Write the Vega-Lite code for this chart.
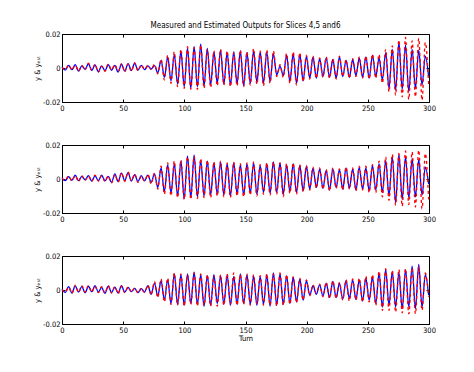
{
"$schema": "https://vega.github.io/schema/vega-lite/v6.json",
"background": "white",
"padding": {"left": 33, "top": 21, "right": 5, "bottom": 5},
"data": {"values": [
{"t":0,"a":0.0005,"b":0.0003,"c":0.0003,"d":0.0005,"e":0.0003,"f":0.0002},
{"t":2.7,"a":-0.0012,"b":-0.001,"c":-0.001,"d":-0.0008,"e":-0.0015,"f":-0.0013},
{"t":5.4,"a":0.0015,"b":0.0018,"c":0.0014,"d":0.0018,"e":0.002,"f":0.0017},
{"t":8.1,"a":-0.001,"b":-0.0013,"c":-0.0008,"d":-0.0012,"e":-0.0018,"f":-0.002},
{"t":10.8,"a":0.002,"b":0.0016,"c":0.0022,"d":0.002,"e":0.0024,"f":0.0028},
{"t":13.5,"a":-0.0018,"b":-0.002,"c":-0.001,"d":-0.0015,"e":-0.0012,"f":-0.0015},
{"t":16.2,"a":0.0012,"b":0.0015,"c":0.0016,"d":0.002,"e":0.002,"f":0.0025},
{"t":18.9,"a":-0.0008,"b":-0.001,"c":-0.0005,"d":-0.0008,"e":-0.0016,"f":-0.0013},
{"t":21.6,"a":0.0025,"b":0.0028,"c":0.002,"d":0.0017,"e":0.0022,"f":0.0026},
{"t":24.3,"a":-0.0015,"b":-0.0012,"c":-0.0012,"d":-0.0015,"e":-0.001,"f":-0.0014},
{"t":27,"a":0.0018,"b":0.0022,"c":0.0018,"d":0.0023,"e":0.0025,"f":0.0022},
{"t":29.7,"a":-0.0022,"b":-0.0025,"c":-0.0009,"d":-0.0012,"e":-0.0012,"f":-0.0016},
{"t":32.4,"a":0.0013,"b":0.001,"c":0.0022,"d":0.002,"e":0.0015,"f":0.0019},
{"t":35.1,"a":-0.0016,"b":-0.0019,"c":-0.0011,"d":-0.0014,"e":-0.002,"f":-0.0018},
{"t":37.8,"a":0.0019,"b":0.0023,"c":0.0015,"d":0.0019,"e":0.0023,"f":0.0027},
{"t":40.5,"a":-0.0014,"b":-0.0012,"c":-0.002,"d":-0.0024,"e":-0.0015,"f":-0.0018},
{"t":43.2,"a":0.0016,"b":0.002,"c":0.003,"d":0.0026,"e":0.0017,"f":0.002},
{"t":45.9,"a":-0.0024,"b":-0.002,"c":-0.0015,"d":-0.0019,"e":-0.0018,"f":-0.0022},
{"t":48.6,"a":0.0022,"b":0.0026,"c":0.0035,"d":0.0038,"e":0.0025,"f":0.0022},
{"t":51.3,"a":-0.0018,"b":-0.0022,"c":-0.001,"d":-0.0014,"e":-0.0013,"f":-0.0015},
{"t":54,"a":0.0026,"b":0.0023,"c":0.0038,"d":0.0042,"e":0.0015,"f":0.0018},
{"t":56.7,"a":-0.0015,"b":-0.0019,"c":-0.0012,"d":-0.001,"e":-0.001,"f":-0.0013},
{"t":59.4,"a":0.0028,"b":0.003,"c":0.0025,"d":0.003,"e":0.001,"f":0.0012},
{"t":62.1,"a":-0.0013,"b":-0.0016,"c":-0.0015,"d":-0.002,"e":-0.0015,"f":-0.0018},
{"t":64.8,"a":0.0015,"b":0.0019,"c":0.002,"d":0.0016,"e":0.0008,"f":0.001},
{"t":67.5,"a":-0.001,"b":-0.0008,"c":-0.001,"d":-0.0013,"e":-0.0012,"f":-0.0015},
{"t":70.2,"a":0.0012,"b":0.0016,"c":0.0023,"d":0.0028,"e":0.0025,"f":0.003},
{"t":72.9,"a":-0.0006,"b":-0.001,"c":-0.002,"d":-0.003,"e":-0.0025,"f":-0.003},
{"t":75.6,"a":0.0014,"b":0.0022,"c":0.003,"d":0.0035,"e":0.004,"f":0.005},
{"t":78.3,"a":-0.0028,"b":-0.0035,"c":-0.005,"d":-0.006,"e":-0.0035,"f":-0.0045},
{"t":81,"a":0.0045,"b":0.0052,"c":0.0065,"d":0.0075,"e":0.0055,"f":0.0065},
{"t":83.7,"a":-0.0055,"b":-0.007,"c":-0.0075,"d":-0.009,"e":-0.006,"f":-0.007},
{"t":86.4,"a":0.0065,"b":0.0075,"c":0.0085,"d":0.0095,"e":0.006,"f":0.007},
{"t":89.1,"a":-0.0075,"b":-0.009,"c":-0.0085,"d":-0.01,"e":-0.008,"f":-0.0085},
{"t":91.8,"a":0.008,"b":0.0095,"c":0.009,"d":0.0105,"e":0.0095,"f":0.01},
{"t":94.5,"a":-0.0095,"b":-0.011,"c":-0.01,"d":-0.011,"e":-0.0085,"f":-0.009},
{"t":97.2,"a":0.01,"b":0.011,"c":0.0105,"d":0.011,"e":0.009,"f":0.0095},
{"t":99.9,"a":-0.011,"b":-0.012,"c":-0.0115,"d":-0.012,"e":-0.009,"f":-0.0095},
{"t":102.6,"a":0.0115,"b":0.0125,"c":0.0135,"d":0.013,"e":0.0095,"f":0.009},
{"t":105.3,"a":-0.012,"b":-0.0125,"c":-0.011,"d":-0.012,"e":-0.008,"f":-0.0085},
{"t":108,"a":0.0125,"b":0.012,"c":0.014,"d":0.0135,"e":0.0105,"f":0.01},
{"t":110.7,"a":-0.011,"b":-0.0125,"c":-0.0105,"d":-0.0115,"e":-0.0085,"f":-0.0095},
{"t":113.4,"a":0.014,"b":0.0135,"c":0.011,"d":0.012,"e":0.009,"f":0.0095},
{"t":116.1,"a":-0.0105,"b":-0.012,"c":-0.01,"d":-0.011,"e":-0.0095,"f":-0.009},
{"t":118.8,"a":0.0115,"b":0.011,"c":0.0105,"d":0.011,"e":0.0085,"f":0.009},
{"t":121.5,"a":-0.01,"b":-0.0115,"c":-0.0095,"d":-0.011,"e":-0.009,"f":-0.0095},
{"t":124.2,"a":0.0095,"b":0.01,"c":0.0095,"d":0.01,"e":0.009,"f":0.0085},
{"t":126.9,"a":-0.009,"b":-0.0105,"c":-0.009,"d":-0.01,"e":-0.008,"f":-0.0095},
{"t":129.6,"a":0.0105,"b":0.011,"c":0.01,"d":0.0105,"e":0.0085,"f":0.009},
{"t":132.3,"a":-0.0095,"b":-0.01,"c":-0.0095,"d":-0.0105,"e":-0.0085,"f":-0.009},
{"t":135,"a":0.009,"b":0.01,"c":0.009,"d":0.0095,"e":0.009,"f":0.0095},
{"t":137.7,"a":-0.01,"b":-0.011,"c":-0.01,"d":-0.011,"e":-0.009,"f":-0.0085},
{"t":140.4,"a":0.0095,"b":0.009,"c":0.0095,"d":0.01,"e":0.008,"f":0.01},
{"t":143.1,"a":-0.0095,"b":-0.0105,"c":-0.009,"d":-0.01,"e":-0.0085,"f":-0.009},
{"t":145.8,"a":0.01,"b":0.0105,"c":0.0085,"d":0.009,"e":0.0095,"f":0.009},
{"t":148.5,"a":-0.0105,"b":-0.011,"c":-0.0095,"d":-0.0105,"e":-0.008,"f":-0.0085},
{"t":151.2,"a":0.009,"b":0.0095,"c":0.009,"d":0.0095,"e":0.009,"f":0.0095},
{"t":153.9,"a":-0.009,"b":-0.01,"c":-0.0085,"d":-0.0095,"e":-0.0085,"f":-0.009},
{"t":156.6,"a":0.01,"b":0.0115,"c":0.0095,"d":0.01,"e":0.0085,"f":0.009},
{"t":159.3,"a":-0.0085,"b":-0.0095,"c":-0.009,"d":-0.01,"e":-0.009,"f":-0.0085},
{"t":162,"a":0.0095,"b":0.01,"c":0.008,"d":0.0085,"e":0.008,"f":0.0085},
{"t":164.7,"a":-0.009,"b":-0.0105,"c":-0.008,"d":-0.009,"e":-0.0085,"f":-0.009},
{"t":167.4,"a":0.0095,"b":0.0105,"c":0.009,"d":0.0095,"e":0.009,"f":0.0095},
{"t":170.1,"a":-0.008,"b":-0.009,"c":-0.0085,"d":-0.0095,"e":-0.0095,"f":-0.009},
{"t":172.8,"a":0.0085,"b":0.01,"c":0.01,"d":0.01,"e":0.01,"f":0.0095},
{"t":175.5,"a":-0.004,"b":-0.005,"c":-0.008,"d":-0.009,"e":-0.009,"f":-0.0095},
{"t":178.2,"a":0.001,"b":0.002,"c":0.0095,"d":0.0095,"e":0.0095,"f":0.01},
{"t":180.9,"a":-0.0045,"b":-0.0055,"c":-0.009,"d":-0.0105,"e":-0.0085,"f":-0.009},
{"t":183.6,"a":0.0075,"b":0.0085,"c":0.0085,"d":0.009,"e":0.0085,"f":0.009},
{"t":186.3,"a":-0.008,"b":-0.009,"c":-0.0075,"d":-0.0085,"e":-0.008,"f":-0.0085},
{"t":189,"a":0.0085,"b":0.0095,"c":0.009,"d":0.0095,"e":0.0075,"f":0.008},
{"t":191.7,"a":-0.009,"b":-0.01,"c":-0.008,"d":-0.009,"e":-0.007,"f":-0.0075},
{"t":194.4,"a":0.008,"b":0.009,"c":0.008,"d":0.0085,"e":0.0065,"f":0.007},
{"t":197.1,"a":-0.0075,"b":-0.008,"c":-0.007,"d":-0.0075,"e":-0.006,"f":-0.006},
{"t":199.8,"a":0.007,"b":0.0075,"c":0.0075,"d":0.008,"e":0.0055,"f":0.006},
{"t":202.5,"a":-0.006,"b":-0.0065,"c":-0.006,"d":-0.0065,"e":-0.003,"f":-0.0035},
{"t":205.2,"a":0.0065,"b":0.007,"c":0.0065,"d":0.007,"e":0.0025,"f":0.003},
{"t":207.9,"a":-0.006,"b":-0.006,"c":-0.005,"d":-0.0055,"e":-0.0025,"f":-0.002},
{"t":210.6,"a":0.0055,"b":0.006,"c":0.006,"d":0.0065,"e":0.003,"f":0.0035},
{"t":213.3,"a":-0.005,"b":-0.0055,"c":-0.0055,"d":-0.006,"e":-0.0035,"f":-0.004},
{"t":216,"a":0.006,"b":0.0065,"c":0.005,"d":0.0055,"e":0.004,"f":0.0045},
{"t":218.7,"a":-0.0055,"b":-0.006,"c":-0.0065,"d":-0.007,"e":-0.0045,"f":-0.005},
{"t":221.4,"a":0.005,"b":0.0055,"c":0.006,"d":0.0065,"e":0.005,"f":0.0055},
{"t":224.1,"a":-0.006,"b":-0.0065,"c":-0.005,"d":-0.0055,"e":-0.0045,"f":-0.005},
{"t":226.8,"a":0.0065,"b":0.007,"c":0.0055,"d":0.006,"e":0.004,"f":0.0045},
{"t":229.5,"a":-0.005,"b":-0.005,"c":-0.006,"d":-0.0065,"e":-0.0055,"f":-0.006},
{"t":232.2,"a":0.0045,"b":0.005,"c":0.0065,"d":0.007,"e":0.0055,"f":0.006},
{"t":234.9,"a":-0.0055,"b":-0.006,"c":-0.0055,"d":-0.006,"e":-0.005,"f":-0.0065},
{"t":237.6,"a":0.005,"b":0.0055,"c":0.006,"d":0.0065,"e":0.006,"f":0.0065},
{"t":240.3,"a":-0.0045,"b":-0.005,"c":-0.0065,"d":-0.007,"e":-0.0055,"f":-0.006},
{"t":243,"a":0.006,"b":0.0065,"c":0.007,"d":0.0075,"e":0.006,"f":0.007},
{"t":245.7,"a":-0.0055,"b":-0.006,"c":-0.006,"d":-0.0065,"e":-0.0065,"f":-0.007},
{"t":248.4,"a":0.0065,"b":0.007,"c":0.0065,"d":0.0075,"e":0.007,"f":0.008},
{"t":251.1,"a":-0.006,"b":-0.0065,"c":-0.007,"d":-0.008,"e":-0.006,"f":-0.007},
{"t":253.8,"a":0.0075,"b":0.008,"c":0.008,"d":0.0085,"e":0.0075,"f":0.009},
{"t":256.5,"a":-0.005,"b":-0.006,"c":-0.0065,"d":-0.008,"e":-0.008,"f":-0.009},
{"t":259.2,"a":0.006,"b":0.008,"c":0.009,"d":0.0105,"e":0.01,"f":0.011},
{"t":261.9,"a":-0.007,"b":-0.009,"c":-0.008,"d":-0.0105,"e":-0.01,"f":-0.012},
{"t":264.6,"a":0.009,"b":0.011,"c":0.011,"d":0.013,"e":0.012,"f":0.0125},
{"t":267.3,"a":-0.012,"b":-0.014,"c":-0.01,"d":-0.0125,"e":-0.009,"f":-0.012},
{"t":270,"a":0.011,"b":0.013,"c":0.013,"d":0.0145,"e":0.011,"f":0.0115},
{"t":272.7,"a":-0.013,"b":-0.016,"c":-0.014,"d":-0.0155,"e":-0.01,"f":-0.013},
{"t":275.4,"a":0.015,"b":0.0165,"c":0.0145,"d":0.015,"e":0.0105,"f":0.012},
{"t":278.1,"a":-0.0125,"b":-0.017,"c":-0.012,"d":-0.016,"e":-0.011,"f":-0.0135},
{"t":280.8,"a":0.0135,"b":0.018,"c":0.013,"d":0.0165,"e":0.012,"f":0.0125},
{"t":283.5,"a":-0.014,"b":-0.0185,"c":-0.011,"d":-0.015,"e":-0.01,"f":-0.014},
{"t":286.2,"a":0.011,"b":0.016,"c":0.012,"d":0.016,"e":0.014,"f":0.013},
{"t":288.9,"a":-0.012,"b":-0.017,"c":-0.0105,"d":-0.0165,"e":-0.011,"f":-0.014},
{"t":291.6,"a":0.0105,"b":0.0175,"c":0.0115,"d":0.017,"e":0.015,"f":0.014},
{"t":294.3,"a":-0.01,"b":-0.019,"c":-0.0095,"d":-0.0175,"e":-0.01,"f":-0.012},
{"t":297,"a":0.007,"b":0.015,"c":0.007,"d":0.015,"e":0.009,"f":0.01},
{"t":299.7,"a":-0.005,"b":-0.01,"c":-0.003,"d":-0.012,"e":-0.003,"f":-0.004}
]},
"spacing": 28,
"vconcat": [
{
"width": 367, "height": 68,
"title": {"text": "Measured and Estimated Outputs for Slices 4,5 and6", "fontSize": 8, "font": "DejaVu Sans Condensed, Liberation Sans, sans-serif", "fontWeight": "normal", "color": "#000", "offset": 0},
"layer": [
{"mark": {"type": "line", "color": "#0000ff", "strokeWidth": 1.3, "interpolate": "monotone"},
"encoding": {
"x": {"field": "t", "type": "quantitative", "scale": {"domain": [0, 300], "nice": false}, "axis": {"values": [0,50,100,150,200,250,300], "title": null}},
"y": {"field": "a", "type": "quantitative", "scale": {"domain": [-0.02, 0.02], "nice": false}, "axis": {"values": [-0.02,0,0.02], "title": "y & yₑₛₜ", "labelExpr": "datum.value == 0 ? '0' : (datum.value > 0 ? '0.02' : '-0.02')"}}
}},
{"mark": {"type": "line", "color": "#ff0000", "strokeWidth": 1.3, "strokeDash": [3, 3], "interpolate": "monotone"},
"encoding": {
"x": {"field": "t", "type": "quantitative", "axis": {"orient": "top", "labels": false, "title": null, "domain": false, "values": [0,50,100,150,200,250,300]}},
"y": {"field": "b", "type": "quantitative", "axis": {"orient": "right", "labels": false, "title": null, "domain": false, "values": [-0.02,0,0.02]}}
}}
],
"resolve": {"axis": {"x": "independent", "y": "independent"}}
},
{
"width": 367, "height": 68,
"layer": [
{"mark": {"type": "line", "color": "#0000ff", "strokeWidth": 1.3, "interpolate": "monotone"},
"encoding": {
"x": {"field": "t", "type": "quantitative", "scale": {"domain": [0, 300], "nice": false}, "axis": {"values": [0,50,100,150,200,250,300], "title": null}},
"y": {"field": "c", "type": "quantitative", "scale": {"domain": [-0.02, 0.02], "nice": false}, "axis": {"values": [-0.02,0,0.02], "title": "y & yₑₛₜ", "labelExpr": "datum.value == 0 ? '0' : (datum.value > 0 ? '0.02' : '-0.02')"}}
}},
{"mark": {"type": "line", "color": "#ff0000", "strokeWidth": 1.3, "strokeDash": [3, 3], "interpolate": "monotone"},
"encoding": {
"x": {"field": "t", "type": "quantitative", "axis": {"orient": "top", "labels": false, "title": null, "domain": false, "values": [0,50,100,150,200,250,300]}},
"y": {"field": "d", "type": "quantitative", "axis": {"orient": "right", "labels": false, "title": null, "domain": false, "values": [-0.02,0,0.02]}}
}}
],
"resolve": {"axis": {"x": "independent", "y": "independent"}}
},
{
"width": 367, "height": 68,
"layer": [
{"mark": {"type": "line", "color": "#0000ff", "strokeWidth": 1.3, "interpolate": "monotone"},
"encoding": {
"x": {"field": "t", "type": "quantitative", "scale": {"domain": [0, 300], "nice": false}, "axis": {"values": [0,50,100,150,200,250,300], "title": "Turn"}},
"y": {"field": "e", "type": "quantitative", "scale": {"domain": [-0.02, 0.02], "nice": false}, "axis": {"values": [-0.02,0,0.02], "title": "y & yₑₛₜ", "labelExpr": "datum.value == 0 ? '0' : (datum.value > 0 ? '0.02' : '-0.02')"}}
}},
{"mark": {"type": "line", "color": "#ff0000", "strokeWidth": 1.3, "strokeDash": [3, 3], "interpolate": "monotone"},
"encoding": {
"x": {"field": "t", "type": "quantitative", "axis": {"orient": "top", "labels": false, "title": null, "domain": false, "values": [0,50,100,150,200,250,300]}},
"y": {"field": "f", "type": "quantitative", "axis": {"orient": "right", "labels": false, "title": null, "domain": false, "values": [-0.02,0,0.02]}}
}}
],
"resolve": {"axis": {"x": "independent", "y": "independent"}}
}
],
"config": {
"view": {"stroke": "#000", "strokeWidth": 1},
"axis": {"grid": false, "domainColor": "#000", "tickColor": "#000", "labelColor": "#000", "labelFont": "DejaVu Sans Condensed, Liberation Sans, sans-serif", "labelFontSize": 7.5, "titleFont": "DejaVu Sans Condensed, Liberation Sans, sans-serif", "titleFontSize": 7.5, "titleFontWeight": "normal", "titleColor": "#000", "tickSize": -3, "labelPadding": 5, "labelFlush": false, "labelOverlap": false, "titlePadding": 1}
}
}
